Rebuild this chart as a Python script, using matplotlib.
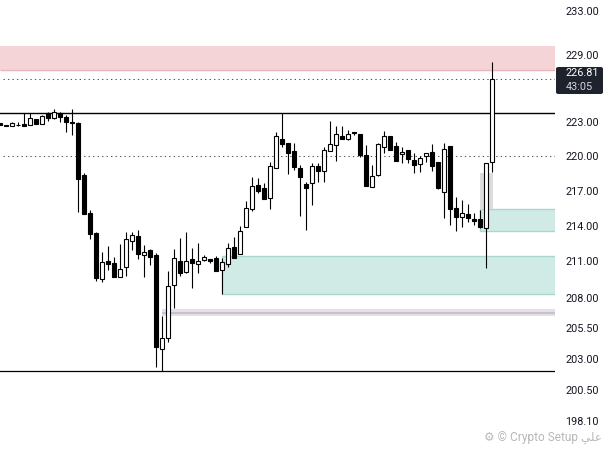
import matplotlib
matplotlib.use('Agg')
import matplotlib.pyplot as plt
from matplotlib.patches import Rectangle, FancyBboxPatch
from matplotlib.ticker import FixedLocator, NullLocator, FixedFormatter

plt.rcParams['font.family'] = ['Roboto', 'DejaVu Sans']

# ---------------- data ----------------
opens = [222.85, 222.74, 222.66, 222.76, 222.78, 222.75, 223.22, 222.81, 223.75, 223.37,
         223.75, 223.45, 223.01, 222.92, 218.35, 215.10, 213.42, 209.57, 211.04, 210.87,
         209.69, 210.51, 212.74, 213.14, 211.57, 211.96, 211.57, 203.79, 204.72, 209.02,
         211.04, 210.10, 211.20, 210.76, 211.12, 211.18, 211.29, 210.27, 210.76, 212.24,
         211.60, 213.87, 215.41, 217.46, 217.25, 216.35, 218.93, 221.49, 221.11, 220.41,
         218.93, 217.57, 217.63, 219.13, 218.72, 220.46, 220.99, 221.75, 221.51, 222.10,
         221.93, 220.06, 217.34, 218.39, 220.81, 221.75, 220.87, 220.17, 220.52, 219.65,
         219.28, 220.00, 220.35, 219.48, 216.91, 220.90, 215.50, 214.78, 214.98, 214.58,
         214.58, 213.84, 219.45]
closes = [222.72, 222.63, 222.92, 222.74, 222.63, 223.31, 222.81, 223.54, 223.37, 223.86,
          223.45, 223.00, 222.87, 218.03, 215.03, 213.34, 209.65, 210.95, 210.81, 209.71,
          210.35, 212.86, 213.22, 211.62, 211.79, 211.40, 204.00, 204.70, 208.96, 211.29,
          210.02, 211.04, 210.84, 211.01, 211.37, 211.01, 210.23, 210.93, 212.10, 211.26,
          213.59, 215.50, 217.40, 216.99, 216.31, 219.13, 221.75, 221.02, 220.24, 219.02,
          218.16, 217.25, 219.13, 218.72, 220.52, 221.05, 221.93, 221.51, 221.93, 222.01,
          220.06, 217.40, 218.26, 221.05, 221.75, 220.52, 219.59, 220.35, 219.71, 219.19,
          219.80, 220.24, 219.16, 217.23, 220.58, 215.41, 214.78, 215.07, 214.69, 214.43,
          213.93, 219.37, 226.81]
highs = [222.92, 222.76, 222.95, 222.98, 223.80, 223.80, 223.25, 223.56, 223.89, 224.12,
         223.89, 223.63, 224.10, 222.95, 218.55, 215.32, 213.45, 211.79, 212.32, 211.37,
         212.46, 213.48, 213.51, 213.65, 212.38, 212.07, 211.73, 206.49, 210.23, 212.02,
         212.97, 213.48, 212.10, 212.52, 211.57, 211.23, 211.46, 211.30, 212.57, 213.08,
         213.99, 216.14, 218.21, 218.07, 217.64, 219.50, 222.10, 223.75, 221.11, 221.16,
         219.22, 217.77, 219.42, 219.42, 220.81, 223.10, 222.63, 222.63, 222.28, 222.10,
         221.93, 220.93, 219.25, 221.11, 222.16, 221.75, 221.22, 220.76, 220.52, 220.29,
         220.00, 220.26, 221.02, 219.48, 221.16, 220.90, 216.46, 216.17, 215.88, 215.10,
         215.32, 219.37, 228.37]
lows = [222.68, 222.60, 222.64, 222.66, 222.60, 222.75, 222.78, 222.80, 223.10, 223.22,
        223.00, 222.13, 221.86, 215.20, 215.03, 212.86, 209.40, 209.30, 210.29, 209.71,
        209.69, 209.81, 211.96, 211.23, 209.73, 210.70, 202.38, 202.04, 204.40, 207.12,
        209.79, 210.02, 208.77, 210.02, 211.01, 210.90, 210.21, 208.27, 210.57, 211.26,
        211.60, 213.87, 215.30, 216.77, 216.26, 215.41, 218.93, 220.76, 218.43, 218.78,
        214.83, 213.65, 215.80, 217.75, 217.75, 220.46, 219.59, 221.46, 221.40, 221.81,
        219.89, 217.40, 217.34, 218.26, 220.29, 220.52, 219.59, 219.37, 219.42, 218.55,
        218.61, 219.45, 218.70, 217.15, 214.69, 214.05, 213.59, 213.93, 214.30, 214.07,
        213.79, 210.43, 218.58]

price_ticks = [233.00, 229.00, 223.00, 220.00, 217.00, 214.00, 211.00, 208.00,
               205.50, 203.00, 200.50, 198.10]
last_price = 226.81
countdown = "43:05"

resistance_level = 223.78
support_level = 202.04
dotted_level = 220.00

supply_zone = (227.62, 229.80)           # pink (bottom, top)
demand_zone_1 = (80, 213.60, 215.41)     # start index, bottom, top
demand_zone_2 = (37, 208.27, 211.46)
grey_band = (27, 206.49, 207.07, 206.76) # start, bottom, top, inner line
grey_box = (80, 82.2, 215.43, 218.52)

# ---------------- figure ----------------
W, H = 607, 455
fig = plt.figure(figsize=(W / 100, H / 100), dpi=100)
fig.patch.set_facecolor('white')
plot_w = 555
ax = fig.add_axes([0, 0, plot_w / W, 1])
ax.set_facecolor('white')
ax.set_yscale('log')
ax.set_ylim(195.43, 234.02)
xmax = (plot_w - 0.2) / 6
ax.set_xlim(-0.2 / 6, xmax)
for s in ax.spines.values():
    s.set_visible(False)
ax.set_xticks([])

# zones
ax.add_patch(Rectangle((ax.get_xlim()[0], supply_zone[0]), xmax + 1, supply_zone[1] - supply_zone[0],
                       facecolor='#f5d4d7', edgecolor='none', zorder=0.5))
ax.hlines(supply_zone[0], ax.get_xlim()[0], xmax, color='#e9b6bb', lw=1.0, zorder=0.6)

for st, b, t in (demand_zone_1, demand_zone_2):
    ax.add_patch(Rectangle((st, b), xmax - st + 1, t - b,
                           facecolor='#d0ebe5', edgecolor='#a9d7cc', lw=1.0, zorder=0.5))

gs, gb, gt, gl = grey_band
ax.add_patch(Rectangle((gs, gb), xmax - gs + 1, gt - gb,
                       facecolor='#e3e1e3', edgecolor='none', zorder=0.5))
ax.hlines(gl, gs, xmax + 1, color='#c9bcd3', lw=1.3, zorder=0.6)

bx0, bx1, bb, bt = grey_box
ax.add_patch(Rectangle((bx0, bb), bx1 - bx0, bt - bb,
                       facecolor='#dcdcdc', edgecolor='none', zorder=0.7))

# horizontal lines
ax.axhline(resistance_level, color='black', lw=1.0, zorder=2)
ax.axhline(support_level, color='black', lw=0.9, zorder=2)
for lvl in (dotted_level, last_price):
    ax.hlines(lvl, 0.45, xmax, color='#555555', lw=0.75,
              linestyle=(0, (1.3, 3.0)), zorder=2)

# candles
idx = list(range(len(opens)))
ax.vlines(idx, lows, highs, color='black', lw=0.8, zorder=3)
bw = 0.62
for i, o, c in zip(idx, opens, closes):
    lo, hi = min(o, c), max(o, c)
    h = max(hi - lo, 0.015)
    fc = 'white' if c >= o else 'black'
    ax.add_patch(Rectangle((i - bw / 2, lo), bw, h, facecolor=fc,
                           edgecolor='black', lw=0.8, zorder=4))

# price axis
ax.yaxis.tick_right()
ax.yaxis.set_major_locator(FixedLocator(price_ticks))
ax.yaxis.set_minor_locator(NullLocator())
ax.yaxis.set_major_formatter(FixedFormatter([f'{t:.2f}' for t in price_ticks]))
ax.tick_params(axis='y', length=0, pad=7.2, labelsize=7.8, labelcolor='#131722')

# last price badge
bx, by, bwid, bh = 556, 67, 47, 27
fig.patches.append(FancyBboxPatch((bx / W, 1 - (by + bh) / H), bwid / W, bh / H,
                                  boxstyle='round,pad=0,rounding_size=0.004',
                                  transform=fig.transFigure, facecolor='#1e222d',
                                  edgecolor='none', zorder=5))
fig.text(566 / W, 1 - 73.5 / H, f'{last_price:.2f}', color='white', fontsize=7.8,
         ha='left', va='center', zorder=6)
fig.text(566 / W, 1 - 87 / H, countdown, color='#d1d4dc', fontsize=7.8,
         ha='left', va='center', zorder=6)

# watermark
fig.text(602 / W, 1 - 438 / H, '\u2699 \u00a9 Crypto Setup \ufef2\ufee0\ufecb',
         color='#b8b8b8', fontsize=8.6, ha='right', va='center',
         family=['Roboto', 'DejaVu Sans'])

fig.savefig('out.png', dpi=100, facecolor='white')
